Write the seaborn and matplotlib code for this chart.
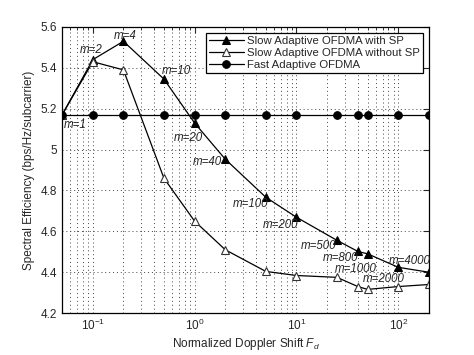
import numpy as np
import pandas as pd
import matplotlib
matplotlib.use("Agg")
import matplotlib.pyplot as plt
import seaborn as sns
from matplotlib.ticker import LogLocator, FormatStrFormatter, MultipleLocator

# data
fd = [0.05, 0.1, 0.2, 0.5, 1, 2, 5, 10, 25, 40, 50, 100, 200]
slow_sp = [5.17, 5.44, 5.53, 5.345, 5.13, 4.953, 4.767, 4.669, 4.556, 4.502, 4.49, 4.424, 4.40]
slow_nosp = [5.17, 5.43, 5.39, 4.86, 4.65, 4.51, 4.404, 4.384, 4.375, 4.33, 4.316, 4.33, 4.34]
fast = [5.17] * len(fd)
m_labels = ["m=1", "m=2", "m=4", "m=10", "m=20", "m=40", "m=100", "m=200",
            "m=500", "m=800", "m=1000", "m=2000", "m=4000"]

# label offsets (pixels) from the "with SP" points
label_offsets = [(2, -10), (-13, 10), (-10, 5), (-2, 8), (-21, -14.5), (-32, -3),
                 (-33, -7), (-34, -8), (-36, -6), (-35, -7), (-33, -15), (-35, -12), (-40, 11)]

sns.set_style("white")
plt.rcParams["font.family"] = ["Liberation Sans", "DejaVu Sans"]
plt.rcParams["mathtext.fontset"] = "custom"
plt.rcParams["mathtext.it"] = "Liberation Sans:italic"
plt.rcParams["mathtext.rm"] = "Liberation Sans"

fig = plt.figure(figsize=(4.74, 3.55), dpi=100)
ax = fig.add_axes([0.131, 0.118, 0.774, 0.806])

sns.lineplot(x=fd, y=slow_sp, ax=ax, color="black", lw=0.9, marker="^", markersize=6,
             markerfacecolor="black", markeredgecolor="black",
             label="Slow Adaptive OFDMA with SP")
sns.lineplot(x=fd, y=slow_nosp, ax=ax, color="black", lw=0.9, marker="^", markersize=6,
             markerfacecolor="white", markeredgecolor="#333333", markeredgewidth=0.8,
             label="Slow Adaptive OFDMA without SP")
sns.lineplot(x=fd, y=fast, ax=ax, color="black", lw=0.9, marker="o", markersize=5.5,
             markerfacecolor="black", markeredgecolor="black",
             label="Fast Adaptive OFDMA")

for xv, yv, lab, (dx, dy) in zip(fd, slow_sp, m_labels, label_offsets):
    ax.annotate(lab, xy=(xv, yv), xytext=(dx, dy), textcoords="offset pixels",
                ha="left", va="center", fontsize=8.3, style="italic")

ax.set_xscale("log")
ax.set_xlim(0.05, 200)
ax.set_ylim(4.2, 5.6)
ax.yaxis.set_major_locator(MultipleLocator(0.2))
ax.yaxis.set_major_formatter(FormatStrFormatter("%g"))
ax.xaxis.set_major_locator(LogLocator(base=10, numticks=10))
ax.xaxis.set_minor_locator(LogLocator(base=10, subs=np.arange(2, 10), numticks=10))

ax.grid(True, which="major", axis="both", linestyle=(0, (1, 3)), color="#444444", lw=0.7)
ax.grid(True, which="minor", axis="x", linestyle=(0, (1, 3)), color="#444444", lw=0.7)

ax.tick_params(which="both", direction="in", top=True, right=True, labelsize=8.5)
ax.tick_params(which="major", length=4)
ax.tick_params(which="minor", length=2)
for s in ax.spines.values():
    s.set_color("black")
    s.set_linewidth(0.9)

ax.set_xlabel("Normalized Doppler Shift $F_d$", fontsize=8.5, labelpad=2)
ax.set_ylabel("Spectral Efficiency (bps/Hz/subcarrier)", fontsize=8.5, labelpad=4)

leg = ax.legend(loc="upper right", fontsize=8.2, handlelength=3.0, frameon=True,
                fancybox=False, borderaxespad=0.5, borderpad=0.3, labelspacing=0.15,
                handletextpad=0.3)
leg.get_frame().set_edgecolor("black")
leg.get_frame().set_linewidth(0.9)
leg.get_frame().set_alpha(1)

fig.savefig("out.png", dpi=100)
